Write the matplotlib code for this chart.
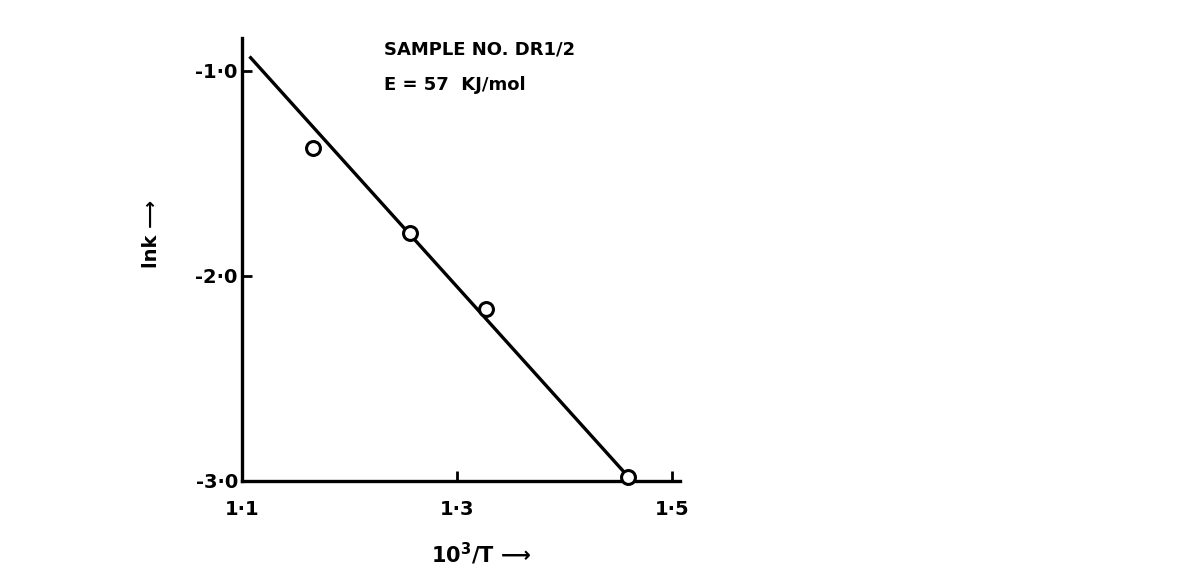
import numpy as np
import matplotlib.pyplot as plt

# data
inv_T = [1.166, 1.256, 1.327, 1.459]      # 10^3/T
lnk = [-1.375, -1.79, -2.16, -2.98]
fit_x = [1.107, 1.459]                     # hand drawn line end points
fit_y = [-0.93, -2.98]

xticks = [1.1, 1.3, 1.5]
xticklabels = ['1·1', '1·3', '1·5']
yticks = [-1.0, -2.0, -3.0]
yticklabels = ['-1·0', '-2·0', '-3·0']

plt.rcParams['font.family'] = 'DejaVu Sans'
plt.rcParams['font.weight'] = 'bold'

fig = plt.figure(figsize=(11.95, 5.85), dpi=100)
ax = fig.add_axes([0.2025, 0.178, 0.3665, 0.757])

ax.plot(fit_x, fit_y, c='k', lw=2.4, solid_capstyle='butt', zorder=2)
ax.plot(inv_T, lnk, ls='none', marker='o', ms=10, mfc='white', mec='k', mew=2.2, zorder=3, clip_on=False)

ax.set_xlim(1.1, 1.507)
ax.set_ylim(-3.0, -0.84)
ax.spines['top'].set_visible(False)
ax.spines['right'].set_visible(False)
ax.spines['left'].set_linewidth(2.4)
ax.spines['bottom'].set_linewidth(2.4)

ax.set_xticks(xticks)
ax.set_xticklabels(xticklabels, fontsize=14, fontweight='bold')
ax.set_yticks(yticks)
ax.set_yticklabels(yticklabels, fontsize=14, fontweight='bold')
ax.tick_params(axis='both', direction='in', length=7, width=2)
ax.tick_params(axis='x', pad=14)
ax.tick_params(axis='y', pad=3)

ax.set_xlabel('10$^3$/T ⟶', fontsize=15, fontweight='bold', labelpad=12)
ax.xaxis.set_label_coords(0.545, -0.135)
fig.text(0.127, 0.6, 'lnk ⟶', rotation=90, fontsize=14, fontweight='bold', ha='center', va='center')

ax.text(0.325, 0.975, 'SAMPLE NO. DR1/2', transform=ax.transAxes, fontsize=13, fontweight='bold', va='center')
ax.text(0.325, 0.895, 'E = 57  KJ/mol', transform=ax.transAxes, fontsize=13, fontweight='bold', va='center')

fig.savefig('out.png', dpi=100)
